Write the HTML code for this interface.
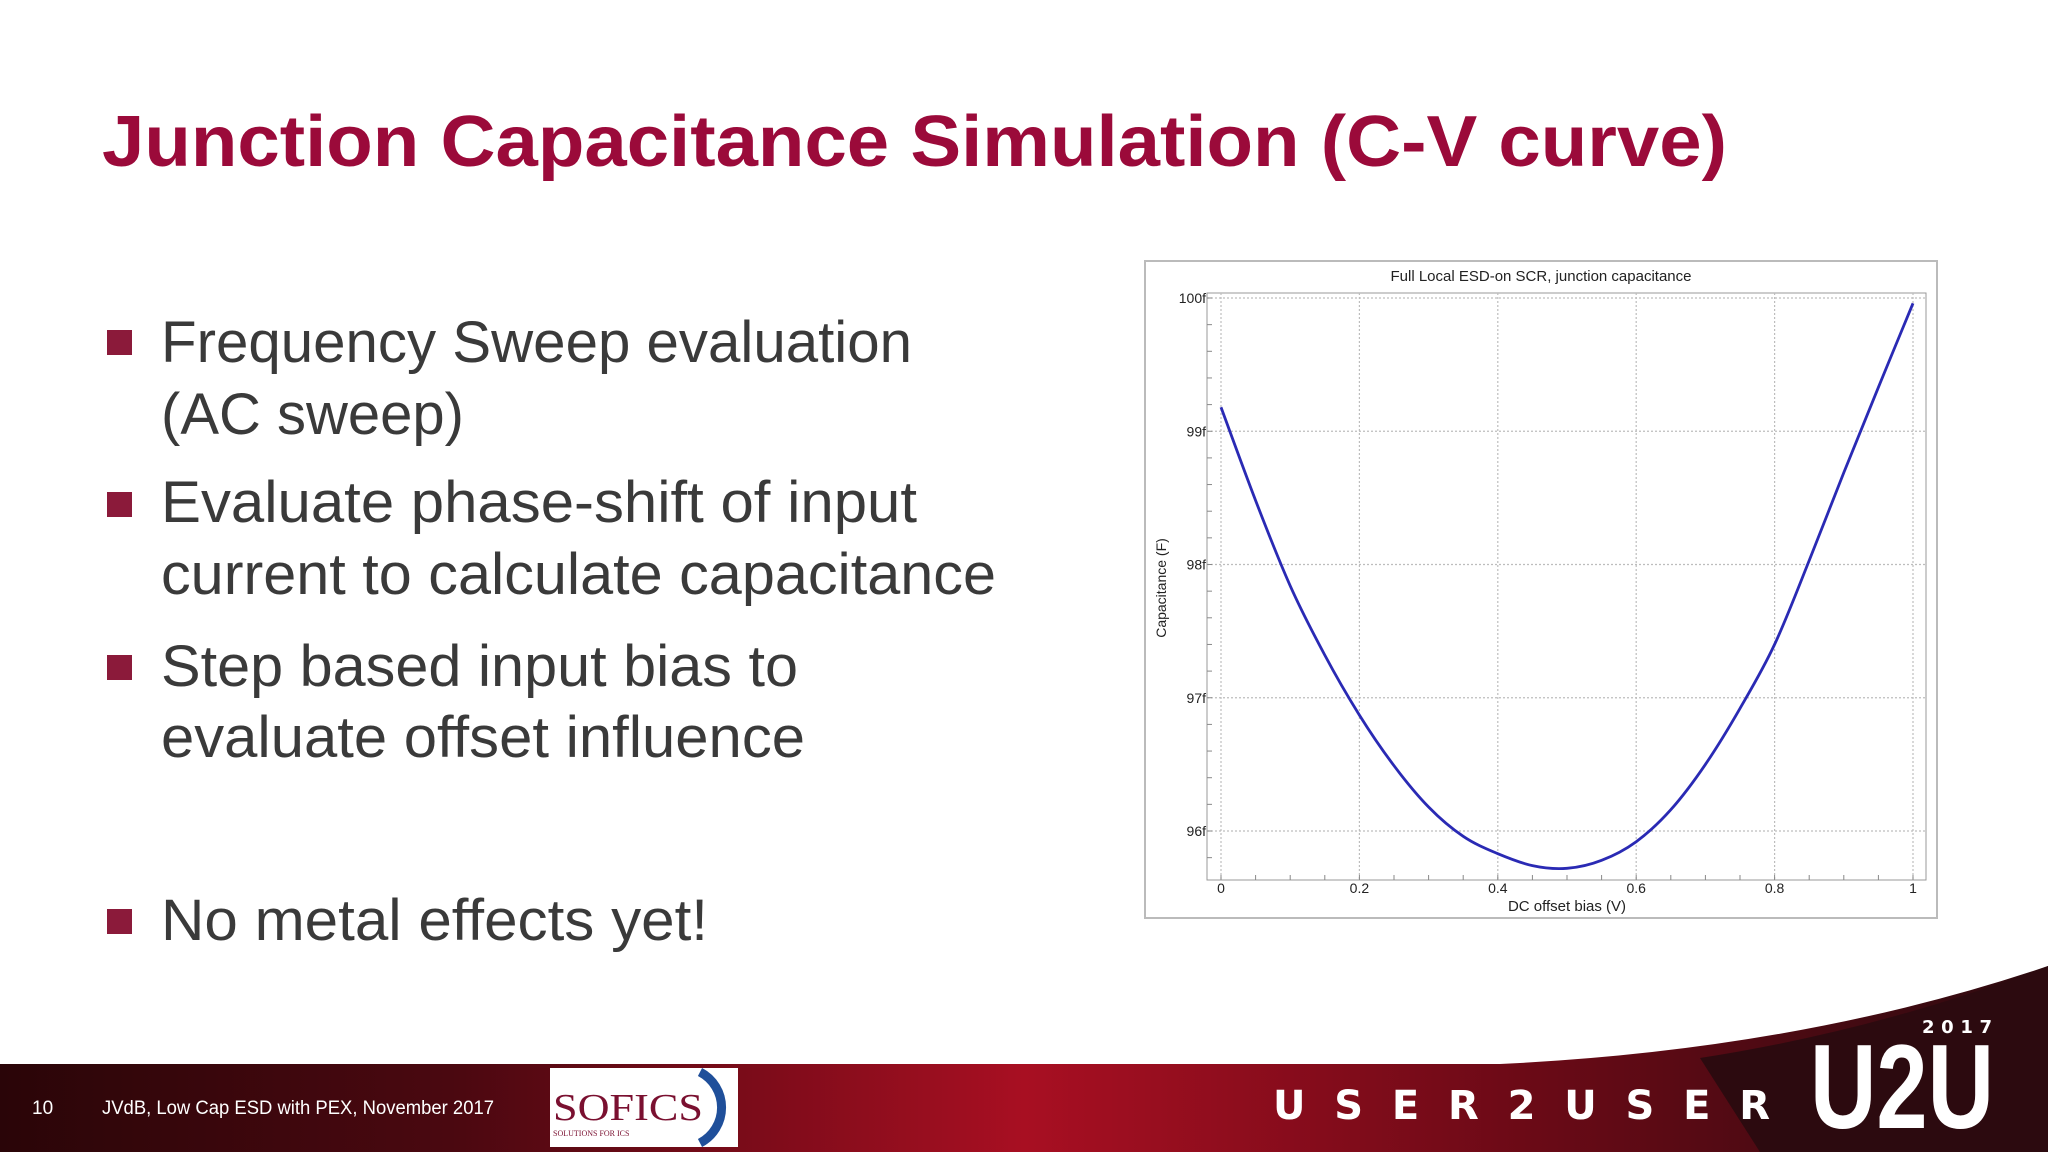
<!DOCTYPE html>
<html><head><meta charset="utf-8"><style>
html,body{margin:0;padding:0;background:#fff;}
svg{display:block;}
</style></head><body>
<svg id="slide" width="2048" height="1152" viewBox="0 0 2048 1152" xmlns="http://www.w3.org/2000/svg">
<defs>
<linearGradient id="fg" x1="0" y1="0" x2="1" y2="0">
<stop offset="0" stop-color="#2a0508"/><stop offset="0.22" stop-color="#4a0810"/><stop offset="0.5" stop-color="#a80f22"/><stop offset="0.75" stop-color="#6a0a16"/><stop offset="1" stop-color="#2c0a0f"/>
</linearGradient>
</defs>
<rect width="2048" height="1152" fill="#fff"/>
<text x="102" y="166" font-family="Liberation Sans, sans-serif" font-weight="bold" font-size="72" fill="#9b0a3a" textLength="1625" lengthAdjust="spacingAndGlyphs">Junction Capacitance Simulation (C-V curve)</text>

<g font-family="Liberation Sans, DejaVu Sans, sans-serif" font-size="58" fill="#3a3a3a">
<rect x="107" y="330" width="25" height="25" fill="#8b1a3a"/>
<text x="161" y="362" textLength="751" lengthAdjust="spacingAndGlyphs">Frequency Sweep evaluation</text>
<text x="161" y="434" textLength="303" lengthAdjust="spacingAndGlyphs">(AC sweep)</text>
<rect x="107" y="492" width="25" height="25" fill="#8b1a3a"/>
<text x="161" y="522" textLength="756" lengthAdjust="spacingAndGlyphs">Evaluate phase-shift of input</text>
<text x="161" y="594" textLength="835" lengthAdjust="spacingAndGlyphs">current to calculate capacitance</text>
<rect x="107" y="655" width="25" height="25" fill="#8b1a3a"/>
<text x="161" y="686" textLength="637" lengthAdjust="spacingAndGlyphs">Step based input bias to</text>
<text x="161" y="757" textLength="644" lengthAdjust="spacingAndGlyphs">evaluate offset influence</text>
<rect x="107" y="909" width="25" height="25" fill="#8b1a3a"/>
<text x="161" y="940" textLength="547" lengthAdjust="spacingAndGlyphs">No metal effects yet!</text>
</g>

<g id="chart"></g>

<g>
<path d="M0,1064 L1500,1064 Q1800,1050 2048,966 L2048,1152 L0,1152 Z" fill="url(#fg)"/>
<path d="M1700,1058 Q1880,1030 2048,966 L2048,1152 L1760,1152 Z" fill="#2c0a0f"/>
<text x="32" y="1114" font-family="Liberation Sans, sans-serif" font-size="19" fill="#fff">10</text>
<text x="102" y="1114" font-family="Liberation Sans, sans-serif" font-size="19" fill="#fff" textLength="392" lengthAdjust="spacingAndGlyphs">JVdB, Low Cap ESD with PEX, November 2017</text>
<g>
<rect x="550" y="1068" width="188" height="79" fill="#fff"/>
<path d="M700,1072 A40,40 0 0 1 700,1143" fill="none" stroke="#1f4f9a" stroke-width="9"/>
<text x="553" y="1120" font-family="Liberation Serif, serif" font-size="38" fill="#7a1030" textLength="150" lengthAdjust="spacingAndGlyphs">SOFICS</text>
<text x="553" y="1136" font-family="Liberation Serif, serif" font-size="8" fill="#7a1030">SOLUTIONS FOR ICS</text>
</g>
<text x="1273" y="1119" font-family="DejaVu Sans, sans-serif" font-weight="bold" font-size="40" fill="#fff" textLength="497" lengthAdjust="spacing">USER2USER</text>
<g>
<text x="1922" y="1033" font-family="DejaVu Sans, sans-serif" font-weight="bold" font-size="18" fill="#fff" textLength="70" lengthAdjust="spacing">2017</text>
<text x="1810" y="1128" font-family="Liberation Sans, sans-serif" font-weight="bold" font-size="120" fill="#fff" textLength="184" lengthAdjust="spacingAndGlyphs">U2U</text>
</g>
</g>
</svg>
<script>
const xValues = [0,0.05,0.1,0.15,0.2,0.25,0.3,0.35,0.4,0.45,0.5,0.55,0.6,0.65,0.7,0.75,0.8,0.85,0.9,0.95,1.0];
const capValues = [99.18,98.48,97.84,97.32,96.87,96.49,96.18,95.96,95.83,95.74,95.72,95.78,95.92,96.16,96.50,96.92,97.40,98.03,98.69,99.33,99.96];
const xTicks = [0,0.2,0.4,0.6,0.8,1];
const xTickLabels = ["0","0.2","0.4","0.6","0.8","1"];
const yTicks = [96,97,98,99,100];
const yTickLabels = ["96f","97f","98f","99f","100f"];

const NS = "http://www.w3.org/2000/svg";
const g = document.getElementById('chart');
const PL=1207, PR=1926, PT=293, PB=880;
const X0=1221, X1=1913, Y100=298, Y96=831;
function sx(v){return X0 + v*(X1-X0);}
function sy(v){return Y96 - (v-96)*(Y96-Y100)/4;}
function mk(tag, attrs){const e=document.createElementNS(NS,tag);for(const k in attrs)e.setAttribute(k,attrs[k]);g.appendChild(e);return e;}

const frame = mk('rect',{x:1145,y:261,width:792,height:657,fill:'#fff',stroke:'#bbbbbb','stroke-width':2});


const plot = mk('rect',{x:PL,y:PT,width:PR-PL,height:PB-PT,fill:'#fff',stroke:'#999','stroke-width':1});



const title = mk('text',{x:1541,y:281,'text-anchor':'middle','font-family':'Liberation Sans, sans-serif','font-size':15,fill:'#222'});
title.textContent='Full Local ESD-on SCR, junction capacitance';



xTicks.forEach((t,i)=>{
  const x=sx(t);
  const gl=mk('line',{x1:x,y1:PT,x2:x,y2:PB,stroke:'#bdbdbd','stroke-width':1.2,'stroke-dasharray':'2,2'});
  
  
  const lb=mk('text',{x:x,y:893,'text-anchor':'middle','font-family':'Liberation Sans, sans-serif','font-size':14,fill:'#222'});
  lb.textContent=xTickLabels[i];
  
  
});
for(let v=0; v<=1.0001; v+=0.05){
  const x=sx(v);
  const tk=mk('line',{x1:x,y1:PB,x2:x,y2:PB-5,stroke:'#888','stroke-width':1});
  
  
}
yTicks.forEach((t,i)=>{
  const y=sy(t);
  const gl=mk('line',{x1:PL,y1:y,x2:PR,y2:y,stroke:'#bdbdbd','stroke-width':1.2,'stroke-dasharray':'2,2'});
  
  
  const lb=mk('text',{x:1206,y:y+5,'text-anchor':'end','font-family':'Liberation Sans, sans-serif','font-size':14,fill:'#222'});
  lb.textContent=yTickLabels[i];
  
  
});
for(let v=95.8; v<=100.01; v+=0.2){
  const y=sy(v);
  const tk=mk('line',{x1:PL,y1:y,x2:PL+5,y2:y,stroke:'#888','stroke-width':1});
  
  
}
const yt=mk('text',{x:0,y:0,transform:'translate(1166,588) rotate(-90)','text-anchor':'middle','font-family':'Liberation Sans, sans-serif','font-size':14,fill:'#222'});
yt.textContent='Capacitance (F)';


const xt=mk('text',{x:1567,y:911,'text-anchor':'middle','font-family':'Liberation Sans, sans-serif','font-size':15,fill:'#222'});
xt.textContent='DC offset bias (V)';



const P=xValues.map((v,i)=>[sx(v),sy(capValues[i])]);
let d='M'+P[0][0].toFixed(1)+','+P[0][1].toFixed(1);
for(let i=0;i<P.length-1;i++){
  const p0=P[Math.max(0,i-1)], p1=P[i], p2=P[i+1], p3=P[Math.min(P.length-1,i+2)];
  const c1=[p1[0]+(p2[0]-p0[0])/6, p1[1]+(p2[1]-p0[1])/6];
  const c2=[p2[0]-(p3[0]-p1[0])/6, p2[1]-(p3[1]-p1[1])/6];
  d+=' C'+c1[0].toFixed(1)+','+c1[1].toFixed(1)+' '+c2[0].toFixed(1)+','+c2[1].toFixed(1)+' '+p2[0].toFixed(1)+','+p2[1].toFixed(1);
}
const line=mk('path',{d:d,fill:'none',stroke:'#2a2ab4','stroke-width':2.8,'stroke-linejoin':'round'});


</script>
</body></html>
